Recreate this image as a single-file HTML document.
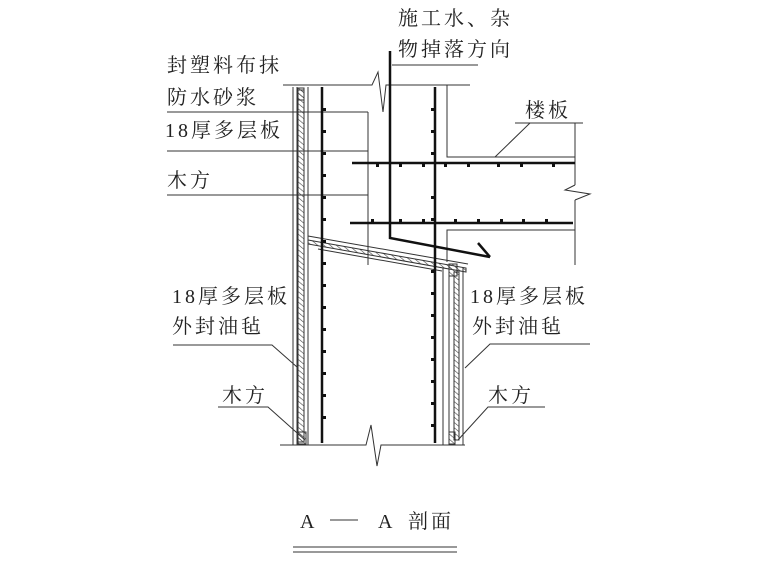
<!DOCTYPE html>
<html><head><meta charset="utf-8"><style>
body{margin:0;background:#fff}
svg{display:block}
text{font-family:"Liberation Serif","Noto Serif CJK SC","Noto Sans CJK SC",serif;font-size:20px;letter-spacing:3px;fill:#222}
</style></head><body>
<svg width="760" height="570" viewBox="0 0 760 570" xmlns="http://www.w3.org/2000/svg">
<defs>
<pattern id="h" width="4" height="4" patternUnits="userSpaceOnUse" patternTransform="rotate(-50)">
<line x1="0" y1="0" x2="0" y2="4" stroke="#444" stroke-width="1.2"/></pattern>
</defs>
<g stroke="#333" fill="none" stroke-width="1">
<polyline points="283,85 372,85 378,72 383,112 386,85 470,85"/>
<line x1="167" y1="112" x2="368" y2="112"/>
<line x1="167" y1="151" x2="368" y2="151"/>
<line x1="167" y1="195" x2="368" y2="195"/>
<line x1="368" y1="112" x2="368" y2="265"/>
<line x1="392" y1="65" x2="478" y2="65"/>
<line x1="293" y1="87" x2="293" y2="445"/>
<line x1="297" y1="87" x2="297" y2="445"/>
<rect x="298" y="90" width="6" height="352" fill="url(#h)" stroke="#333"/>
<line x1="308" y1="87" x2="308" y2="445"/>
<polyline points="447,85 447,157 575,157"/>
<polyline points="575,265 575,230 447,230 447,262"/>
<line x1="575" y1="123" x2="575" y2="185"/>
<polyline points="575,185 565,190 590,194 575,200"/>
<line x1="575" y1="200" x2="575" y2="230"/>
<line x1="515" y1="123" x2="583" y2="123"/>
<line x1="530" y1="123" x2="495" y2="157"/>
<line x1="443" y1="268" x2="443" y2="445"/>
<line x1="449" y1="268" x2="449" y2="445"/>
<rect x="454" y="272" width="5" height="168" fill="url(#h)" stroke="#333"/>
<line x1="463" y1="268" x2="463" y2="445"/>
<rect x="449" y="432" width="6" height="12" fill="url(#h)"/>
<rect x="298" y="432" width="8" height="12" fill="url(#h)"/>
<rect x="298" y="88" width="6" height="12" fill="url(#h)"/>
<line x1="308" y1="236" x2="468" y2="264"/>
<polygon points="308,240 466,268 466,272 308,244" fill="url(#h)"/>
<line x1="318" y1="249" x2="442" y2="271"/>
<rect x="449" y="264" width="8" height="12" fill="url(#h)"/>
<polyline points="280,445 366,445 371,425 377,466 381,445 465,445"/>
<polyline points="173,345 272,345 297,367"/>
<polyline points="218,407 268,407 305,440"/>
<polyline points="590,344 490,344 465,368"/>
<polyline points="545,407 488,407 458,440"/>
<line x1="293" y1="547" x2="457" y2="547"/>
<line x1="293" y1="552" x2="457" y2="552"/>
<line x1="330" y1="520" x2="358" y2="520"/>
</g>
<g stroke="#111" fill="none" stroke-width="2.5">
<line x1="322" y1="87" x2="322" y2="443"/>
<line x1="435" y1="87" x2="435" y2="443"/>
<line x1="352" y1="163" x2="575" y2="163"/>
<line x1="350" y1="223" x2="573" y2="223"/>
<polyline points="390,51 390,238 490,257"/>
<line x1="490" y1="257" x2="478" y2="243"/>
</g>
<g fill="#111">
<rect x="323" y="108" width="3" height="3"/><rect x="323" y="130" width="3" height="3"/><rect x="323" y="152" width="3" height="3"/>
<rect x="323" y="174" width="3" height="3"/><rect x="323" y="196" width="3" height="3"/><rect x="323" y="218" width="3" height="3"/>
<rect x="323" y="240" width="3" height="3"/><rect x="323" y="262" width="3" height="3"/><rect x="323" y="284" width="3" height="3"/>
<rect x="323" y="306" width="3" height="3"/><rect x="323" y="328" width="3" height="3"/><rect x="323" y="350" width="3" height="3"/>
<rect x="323" y="372" width="3" height="3"/><rect x="323" y="394" width="3" height="3"/><rect x="323" y="416" width="3" height="3"/>
<rect x="431" y="108" width="3" height="3"/><rect x="431" y="130" width="3" height="3"/><rect x="431" y="152" width="3" height="3"/>
<rect x="431" y="196" width="3" height="3"/><rect x="431" y="218" width="3" height="3"/>
<rect x="431" y="270" width="3" height="3"/><rect x="431" y="292" width="3" height="3"/><rect x="431" y="314" width="3" height="3"/>
<rect x="431" y="336" width="3" height="3"/><rect x="431" y="358" width="3" height="3"/><rect x="431" y="380" width="3" height="3"/>
<rect x="431" y="402" width="3" height="3"/><rect x="431" y="424" width="3" height="3"/>
<rect x="376" y="164" width="3" height="3"/><rect x="399" y="164" width="3" height="3"/><rect x="422" y="164" width="3" height="3"/><rect x="444" y="164" width="3" height="3"/><rect x="467" y="164" width="3" height="3"/><rect x="497" y="164" width="3" height="3"/><rect x="520" y="164" width="3" height="3"/><rect x="552" y="164" width="3" height="3"/>
<rect x="371" y="219" width="3" height="3"/><rect x="399" y="219" width="3" height="3"/><rect x="422" y="219" width="3" height="3"/><rect x="454" y="219" width="3" height="3"/><rect x="477" y="219" width="3" height="3"/><rect x="500" y="219" width="3" height="3"/><rect x="522" y="219" width="3" height="3"/><rect x="545" y="219" width="3" height="3"/>
</g>
<text x="398" y="25">施工水、杂</text>
<text x="398" y="56">物掉落方向</text>
<text x="167" y="72">封塑料布抹</text>
<text x="167" y="104">防水砂浆</text>
<text x="165" y="137">18厚多层板</text>
<text x="167" y="187">木方</text>
<text x="525" y="117">楼板</text>
<text x="172" y="303">18厚多层板</text>
<text x="172" y="333">外封油毡</text>
<text x="222" y="402">木方</text>
<text x="470" y="303">18厚多层板</text>
<text x="472" y="333">外封油毡</text>
<text x="488" y="402">木方</text>
<text x="300" y="528">A</text>
<text x="378" y="528">A</text>
<text x="408" y="528">剖面</text>
</svg>
</body></html>
